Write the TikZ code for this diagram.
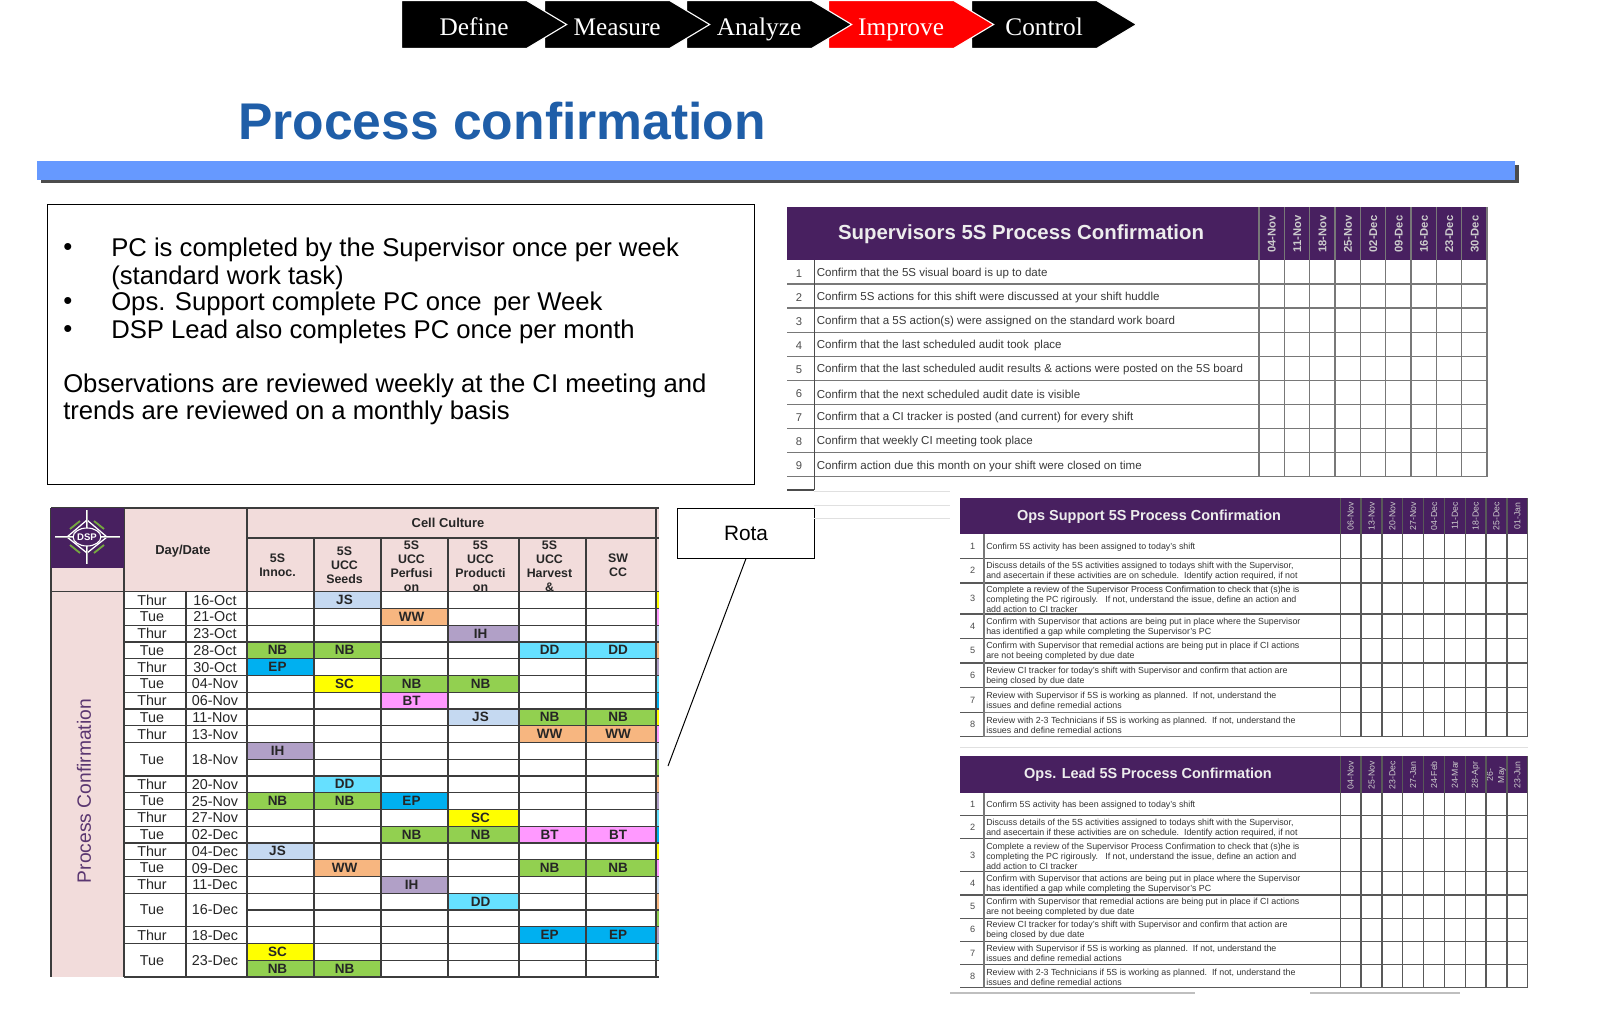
\documentclass[tikz,border=0pt]{standalone}
\usepackage{fontspec}
\setmainfont{Liberation Sans}
\newfontfamily\chevronfont{Liberation Serif}
\usepackage{xcolor}
\usetikzlibrary{shapes.geometric, shapes.symbols, positioning}
\definecolor{titlecolor}{RGB}{31, 94, 168}
\definecolor{barcolor}{RGB}{102, 153, 255}
\definecolor{purplecolor}{RGB}{72, 32, 96}
\definecolor{headcolor}{RGB}{242, 220, 219}
\definecolor{gridcolor}{RGB}{60, 60, 60}
\definecolor{sheetcolor}{RGB}{120, 120, 120}
\definecolor{nbcolor}{RGB}{146, 208, 80}
\definecolor{epcolor}{RGB}{0, 176, 240}
\definecolor{ddcolor}{RGB}{102, 224, 255}
\definecolor{sccolor}{RGB}{255, 255, 0}
\definecolor{btcolor}{RGB}{255, 153, 255}
\definecolor{jscolor}{RGB}{197, 217, 241}
\definecolor{wwcolor}{RGB}{247, 182, 128}
\definecolor{ihcolor}{RGB}{177, 160, 199}

\begin{document}
\begin{tikzpicture}[
    x=0.025cm, y=-0.025cm,
    chevron/.style={signal, signal to=east, signal pointer angle=62, fill=black, draw=white, line width=0.8pt, text=white, minimum width=4.125cm, minimum height=1.2cm, inner sep=0pt, anchor=west, text height=18pt, text depth=3pt, execute at begin node={\hspace*{0.5cm}}, font=\chevronfont\fontsize{18}{20}\selectfont},
    boxline/.style={anchor=west, inner sep=0pt, font=\fontsize{18.25}{21}\selectfont},
    rowtext/.style={inner sep=0pt, text=black!85, font=\fontsize{10.2}{12}\selectfont},
    headtext/.style={inner sep=0pt, align=center, text=black!85, font=\bfseries\fontsize{8.8}{10}\selectfont},
    cellA/.style={inner sep=0pt, minimum height=0.42cm, minimum width=1.675cm, text=black!85, execute at end node={\hspace*{0.15cm}}, font=\bfseries\fontsize{9.6}{11}\selectfont},
    cellB/.style={cellA, minimum width=1.775cm},
    cellC/.style={cellA, minimum width=1.75cm},
    gridline/.style={gridcolor, line width=0.8pt},
    sheetline/.style={sheetcolor, line width=0.9pt},
    faintline/.style={black!12, line width=0.6pt},
    banner/.style={fill=purplecolor, draw=none},
    sheettitle/.style={inner sep=0pt, text=white!93!black, font=\bfseries\fontsize{10.3}{12}\selectfont},
    datelabel/.style={rotate=90, inner sep=0pt, text=white!80!black, font=\fontsize{6.2}{7}\selectfont},
    supdate/.style={rotate=90, inner sep=0pt, text=white!80!black, font=\bfseries\fontsize{8}{9}\selectfont},
    suptext/.style={anchor=west, inner sep=0pt, text=black!78, font=\fontsize{8.2}{10}\selectfont},
    opstext/.style={anchor=west, inner sep=0pt, align=left, text=black!80, font=\fontsize{6.28}{7.1}\selectfont},
    numtext/.style={inner sep=0pt, text=black!70, font=\fontsize{6.5}{8}\selectfont}
]
    \useasboundingbox (0, 0) rectangle (1600, 1034);

    % Phases, last one first so that each tip lies over the next
    \node[chevron] (control) at (971, 24.5) {Control};
    \node[chevron, fill=red] (improve) at (828, 24.5) {Improve};
    \node[chevron] (analyze) at (686, 24.5) {Analyze};
    \node[chevron] (measure) at (544, 24.5) {Measure};
    \node[chevron] (define) at (401, 24.5) {Define};

    % Title and bar
    \node[inner sep=0pt, text=titlecolor, font=\bfseries\fontsize{36.7}{40}\selectfont] (title) at (502, 121) {Process confirmation};
    \fill[black!70] (41, 165) rectangle (1519, 183);
    \fill[barcolor] (37, 161) rectangle (1515, 180);

    % Text box
    \draw[black, line width=0.7pt] (47, 204) rectangle (754, 484);
    \node[boxline] (bullet1) at (63, 250) {•};
    \node[boxline] (line1) at (111, 250) {PC is completed by the Supervisor once per week};
    \node[boxline] (line2) at (111, 277.5) {(standard work task)};
    \node[boxline] (bullet2) at (63, 304) {•};
    \node[boxline] (line3) at (111, 304) {Ops. Support complete PC once\, per Week};
    \node[boxline] (bullet3) at (63, 332) {•};
    \node[boxline] (line4) at (111, 332) {DSP Lead also completes PC once per month};
    \node[boxline] (line5) at (63, 386) {Observations are reviewed weekly at the CI meeting and};
    \node[boxline] (line6) at (63, 413) {trends are reviewed on a monthly basis};

    % Rota header
    \fill[headcolor] (51, 508) rectangle (659, 592);
    \fill[headcolor] (51, 568) rectangle (124, 977);
    \node[headtext, font=\bfseries\fontsize{9.2}{11}\selectfont] (cellculture) at (448, 523) {Cell Culture};
    \node[headtext, font=\bfseries\fontsize{9.2}{11}\selectfont] (daydate) at (183, 551) {Day/Date};
    \node[headtext] (innoc) at (277.5, 565) {5S\\Innoc.};
    \node[headtext] (seeds) at (344.5, 565) {5S\\UCC\\Seeds};
    \node[headtext] (perfusion) at (411.5, 566) {5S\\UCC\\Perfusi\\on};
    \node[headtext] (production) at (480.5, 566) {5S\\UCC\\Producti\\on};
    \node[headtext] (harvest) at (549.5, 566) {5S\\UCC\\Harvest\\\&};
    \node[headtext] (swcc) at (618, 565) {SW\\CC};
    \node[rotate=90, inner sep=0pt, text=purplecolor!90!white, font=\fontsize{13.7}{15}\selectfont] (rotaside) at (84, 791) {Process Confirmation};

    % Rota body
    \fill[white] (124, 592) rectangle (656, 977);
    \foreach \rowy/\rowcolor in {600.1/sccolor, 616.8/btcolor, 633.6/jscolor, 650.3/wwcolor, 667.1/ihcolor, 683.8/ddcolor, 700.6/epcolor, 717.3/sccolor, 734.1/btcolor, 750.8/jscolor, 767.6/nbcolor, 784.3/wwcolor, 801.1/ihcolor, 817.8/ddcolor, 834.6/epcolor, 851.3/sccolor, 868.1/btcolor, 884.8/jscolor, 901.6/wwcolor, 918.3/nbcolor, 935.1/ihcolor, 951.8/ddcolor}
        \fill[\rowcolor] (656, \rowy-8.4) rectangle (659, \rowy+8.4);

    % Rota dates
    \foreach \rowday/\rowdate/\rowy [count=\i] in {Thur/16-Oct/600.1, Tue/21-Oct/616.8, Thur/23-Oct/633.6, Tue/28-Oct/650.3, Thur/30-Oct/667.1, Tue/04-Nov/683.8, Thur/06-Nov/700.6, Tue/11-Nov/717.3, Thur/13-Nov/734.1, Tue/18-Nov/759.2, Thur/20-Nov/784.3, Tue/25-Nov/801.1, Thur/27-Nov/817.8, Tue/02-Dec/834.6, Thur/04-Dec/851.3, Tue/09-Dec/868.1, Thur/11-Dec/884.8, Tue/16-Dec/910, Thur/18-Dec/935.1, Tue/23-Dec/960.2}{
        \node[rowtext] (day\i) at (152, \rowy) {\rowday};
        \node[rowtext] (date\i) at (215, \rowy) {\rowdate};
    }

    % Rota assignments
    \node[cellA, fill=jscolor] (js1) at (347.5, 600.1) {JS};
    \node[cellA, fill=wwcolor] (ww1) at (414.5, 616.8) {WW};
    \node[cellB, fill=ihcolor] (ih1) at (483.5, 633.6) {IH};
    \node[cellA, fill=nbcolor] (nb1) at (280.5, 650.3) {NB};
    \node[cellA, fill=nbcolor] (nb2) at (347.5, 650.3) {NB};
    \node[cellA, fill=ddcolor] (dd1) at (552.5, 650.3) {DD};
    \node[cellC, fill=ddcolor] (dd2) at (621, 650.3) {DD};
    \node[cellA, fill=epcolor] (ep1) at (280.5, 667.1) {EP};
    \node[cellA, fill=sccolor] (sc1) at (347.5, 683.8) {SC};
    \node[cellA, fill=nbcolor] (nb3) at (414.5, 683.8) {NB};
    \node[cellB, fill=nbcolor] (nb4) at (483.5, 683.8) {NB};
    \node[cellA, fill=btcolor] (bt1) at (414.5, 700.6) {BT};
    \node[cellB, fill=jscolor] (js2) at (483.5, 717.3) {JS};
    \node[cellA, fill=nbcolor] (nb5) at (552.5, 717.3) {NB};
    \node[cellC, fill=nbcolor] (nb6) at (621, 717.3) {NB};
    \node[cellA, fill=wwcolor] (ww2) at (552.5, 734.1) {WW};
    \node[cellC, fill=wwcolor] (ww3) at (621, 734.1) {WW};
    \node[cellA, fill=ihcolor] (ih2) at (280.5, 750.8) {IH};
    \node[cellA, fill=ddcolor] (dd3) at (347.5, 784.3) {DD};
    \node[cellA, fill=nbcolor] (nb7) at (280.5, 801.1) {NB};
    \node[cellA, fill=nbcolor] (nb8) at (347.5, 801.1) {NB};
    \node[cellA, fill=epcolor] (ep2) at (414.5, 801.1) {EP};
    \node[cellB, fill=sccolor] (sc2) at (483.5, 817.8) {SC};
    \node[cellA, fill=nbcolor] (nb9) at (414.5, 834.6) {NB};
    \node[cellB, fill=nbcolor] (nb10) at (483.5, 834.6) {NB};
    \node[cellA, fill=btcolor] (bt2) at (552.5, 834.6) {BT};
    \node[cellC, fill=btcolor] (bt3) at (621, 834.6) {BT};
    \node[cellA, fill=jscolor] (js3) at (280.5, 851.3) {JS};
    \node[cellA, fill=wwcolor] (ww4) at (347.5, 868.1) {WW};
    \node[cellA, fill=nbcolor] (nb11) at (552.5, 868.1) {NB};
    \node[cellC, fill=nbcolor] (nb12) at (621, 868.1) {NB};
    \node[cellA, fill=ihcolor] (ih3) at (414.5, 884.8) {IH};
    \node[cellB, fill=ddcolor] (dd4) at (483.5, 901.6) {DD};
    \node[cellA, fill=epcolor] (ep3) at (552.5, 935.1) {EP};
    \node[cellC, fill=epcolor] (ep4) at (621, 935.1) {EP};
    \node[cellA, fill=sccolor] (sc3) at (280.5, 951.8) {SC};
    \node[cellA, fill=nbcolor] (nb13) at (280.5, 968.6) {NB};
    \node[cellA, fill=nbcolor] (nb14) at (347.5, 968.6) {NB};

    % Rota grid
    \foreach \gridy in {608.5, 625.2, 642, 658.7, 675.5, 692.2, 709, 725.7, 742.5, 776, 792.7, 809.5, 826.2, 843, 859.7, 876.5, 893.2, 926.7, 943.5, 977}
        \draw[gridline] (124, \gridy) -- (659, \gridy);
    \draw[gridline] (51, 591.7) -- (659, 591.7);
    \foreach \gridy in {759.2, 910, 960.2}
        \draw[gridline] (247, \gridy) -- (659, \gridy);
    \foreach \gridx in {124, 247}
        \draw[gridline] (\gridx, 508) -- (\gridx, 977);
    \draw[gridline] (186, 591.7) -- (186, 977);
    \foreach \gridx in {314, 381, 448, 519, 586}
        \draw[gridline] (\gridx, 538) -- (\gridx, 977);
    \draw[gridline] (656, 508) -- (656, 977);
    \draw[gridline] (51, 508) -- (659, 508);
    \draw[gridline] (247, 538) -- (659, 538);
    \draw[gridline] (51, 508) -- (51, 977);

    % Logo
    \fill[purplecolor] (51, 508) rectangle (124, 568);
    \draw[white, line width=0.9pt] (87, 520) -- (107, 537) -- (87, 553) -- (67, 537) -- cycle;
    \draw[nbcolor!80!black, line width=1.3pt] (70, 529) -- (80, 521) (104, 529) -- (94, 521) (70, 545) -- (80, 553) (104, 545) -- (94, 553);
    \draw[white, line width=0.6pt, double=black!30, double distance=0.7pt] (55, 537) -- (120, 537) (87, 510) -- (87, 564);
    \node[ellipse, fill=purplecolor, draw=white, line width=0.8pt, inner sep=0pt, minimum width=0.65cm, minimum height=0.45cm, text=white, font=\bfseries\fontsize{6.8}{8}\selectfont] (dsp) at (87, 537) {DSP};

    % Rota callout
    \node[draw=black, line width=0.7pt, minimum width=3.4cm, minimum height=1.25cm, inner sep=0pt, font=\fontsize{14.8}{16}\selectfont] (rota) at (746, 533) {Rota};
    \coordinate (rotaend) at (668, 766);
    \draw[black, line width=0.7pt] (rota.south) -- (rotaend);

    % Supervisors sheet
    \fill[banner] (787, 207) rectangle (1487, 260);
    \node[sheettitle, font=\bfseries\fontsize{14.5}{16}\selectfont] (suptitle) at (1021, 234) {Supervisors 5S Process Confirmation};
    \foreach \supdate/\supx [count=\i] in {04-Nov/1271.7, 11-Nov/1297.3, 18-Nov/1322.6, 25-Nov/1348, 02-Dec/1373.3, 09-Dec/1398.7, 16-Dec/1424, 23-Dec/1449.3, 30-Dec/1474.7}
        \node[supdate] (supd\i) at (\supx, 234) {\supdate};
    \foreach \gridx in {1259, 1284.3, 1309.7, 1335, 1360.3, 1385.7, 1411, 1436.3, 1461.7, 1487}
        \draw[sheetline] (\gridx, 207) -- (\gridx, 476.6);
    \foreach \gridy in {284, 308.1, 332.2, 356.3, 380.4, 404.4, 428.5, 452.6, 476.6}
        \draw[sheetline] (787, \gridy) -- (1487, \gridy);
    \draw[black!70, line width=0.7pt] (814, 260) -- (814, 490);
    \draw[black!70, line width=1pt] (787, 490) -- (814, 490);
    \foreach \numy/\numtxt [count=\i] in {273.5/1, 297.6/2, 321.7/3, 345.7/4, 369.8/5, 393.9/6, 417.9/7, 442/8, 466.1/9}
        \node[numtext, font=\fontsize{8}{9}\selectfont] (supn\i) at (799, \numy) {\numtxt};
    \node[suptext] (sup1) at (816.5, 273.5) {Confirm that the 5S visual board is up to date};
    \node[suptext] (sup2) at (816.5, 297.6) {Confirm 5S actions for this shift were discussed at your shift huddle};
    \node[suptext] (sup3) at (816.5, 321.7) {Confirm that a 5S action(s) were assigned on the standard work board};
    \node[suptext] (sup4) at (816.5, 345.7) {Confirm that the last scheduled audit took\, place};
    \node[suptext] (sup5) at (816.5, 369.8) {Confirm that the last scheduled audit results \& actions were posted on the 5S board};
    \node[suptext] (sup6) at (816.5, 393.9) {Confirm that the next scheduled audit date is visible};
    \node[suptext] (sup7) at (816.5, 417.9) {Confirm that a CI tracker is posted (and current) for every shift};
    \node[suptext] (sup8) at (816.5, 442) {Confirm that weekly CI meeting took place};
    \node[suptext] (sup9) at (816.5, 466.1) {Confirm action due this month on your shift were closed on time};
    \foreach \fainty in {491, 505, 518}
        \draw[faintline] (814, \fainty) -- (950, \fainty);

    % Ops Support sheet
    \fill[banner] (960, 498) rectangle (1528, 534);
    \node[sheettitle] (opstitle) at (1149, 516.5) {Ops Support 5S Process Confirmation};
    \foreach \opsdate/\opsx [count=\i] in {06-Nov/1350.7, 13-Nov/1371.5, 20-Nov/1392.3, 27-Nov/1413.1, 04-Dec/1434, 11-Dec/1454.8, 18-Dec/1475.6, 25-Dec/1496.4, 01-Jan/1517.3}
        \node[datelabel] (opsd\i) at (\opsx, 516) {\opsdate};
    \foreach \gridx in {1340.3, 1361.1, 1382, 1402.8, 1423.6, 1444.5, 1465.3, 1486.1, 1507, 1527.8}
        \draw[sheetline, black!65] (\gridx, 498) -- (\gridx, 737);
    \foreach \gridy in {558.3, 583, 614, 638.7, 663, 687.7, 712.3, 736.7}
        \draw[sheetline, black!65] (960, \gridy) -- (1528, \gridy);
    \draw[sheetline] (984, 534) -- (984, 737);
    \foreach \numy/\numtxt [count=\i] in {546.2/1, 570.7/2, 598.5/3, 626.3/4, 650.8/5, 675.3/6, 700/7, 724.5/8}
        \node[numtext] (opsn\i) at (972.6, \numy) {\numtxt};
    \node[opstext] (ops1) at (986, 547) {Confirm 5S activity has been assigned to today's shift};
    \node[opstext] (ops2) at (986, 571.5) {Discuss details of the 5S activities assigned to todays shift with the Supervisor,\\and asecertain if these activities are on schedule.\ \ Identify action required, if not};
    \node[opstext] (ops3) at (986, 599.3) {Complete a review of the Supervisor Process Confirmation to check that (s)he is\\completing the PC rigirously.\ \ \ If not, understand the issue, define an action and\\add action to CI tracker};
    \node[opstext] (ops4) at (986, 627.1) {Confirm with Supervisor that actions are being put in place where the Supervisor\\has identified a gap while completing the Supervisor's PC};
    \node[opstext] (ops5) at (986, 651.6) {Confirm with Supervisor that remedial actions are being put in place if CI actions\\are not beeing completed by due date};
    \node[opstext] (ops6) at (986, 676.1) {Review CI tracker for today's shift with Supervisor and confirm that action are\\being closed by due date};
    \node[opstext] (ops7) at (986, 700.8) {Review with Supervisor if 5S is working as planned.\ \ If not, understand the\\issues and define remedial actions};
    \node[opstext] (ops8) at (986, 725.3) {Review with 2-3 Technicians if 5S is working as planned.\ \ If not, understand the\\issues and define remedial actions};
    \draw[black!50, line width=1.1pt] (984, 712.3) rectangle (1340.3, 736.7);
    \draw[faintline] (960, 747) -- (1528, 747);

    % Ops. Lead sheet
    \fill[banner] (960, 756) rectangle (1528, 793.3);
    \node[sheettitle] (leadtitle) at (1148, 775) {Ops. Lead 5S Process Confirmation};
    \foreach \leaddate/\leadx [count=\i] in {04-Nov/1350.7, 25-Nov/1371.5, 23-Dec/1392.3, 27-Jan/1413.1, 24-Feb/1434, 24-Mar/1454.8, 28-Apr/1475.6, 23-Jun/1517.3}
        \node[datelabel] (leadd\i) at (\leadx, 775) {\leaddate};
    \node[datelabel, align=center, font=\fontsize{6.2}{8}\selectfont] (leadmay) at (1496.4, 775) {26-\\May};
    \foreach \gridx in {1340.3, 1361.1, 1382, 1402.8, 1423.6, 1444.5, 1465.3, 1486.1, 1507, 1527.8}
        \draw[sheetline, black!65] (\gridx, 756) -- (\gridx, 988);
    \foreach \gridy in {815.7, 838.7, 871.7, 895, 918.3, 941.3, 964.7, 987.7}
        \draw[sheetline, black!65] (960, \gridy) -- (1528, \gridy);
    \draw[sheetline] (984, 793.3) -- (984, 988);
    \foreach \numy/\numtxt [count=\i] in {804.5/1, 827.2/2, 855.2/3, 883.3/4, 906.7/5, 929.8/6, 953/7, 976.2/8}
        \node[numtext] (leadn\i) at (972.6, \numy) {\numtxt};
    \node[opstext] (lead1) at (986, 805.3) {Confirm 5S activity has been assigned to today's shift};
    \node[opstext] (lead2) at (986, 828) {Discuss details of the 5S activities assigned to todays shift with the Supervisor,\\and asecertain if these activities are on schedule.\ \ Identify action required, if not};
    \node[opstext] (lead3) at (986, 856) {Complete a review of the Supervisor Process Confirmation to check that (s)he is\\completing the PC rigirously.\ \ \ If not, understand the issue, define an action and\\add action to CI tracker};
    \node[opstext] (lead4) at (986, 884.1) {Confirm with Supervisor that actions are being put in place where the Supervisor\\has identified a gap while completing the Supervisor's PC};
    \node[opstext] (lead5) at (986, 907.5) {Confirm with Supervisor that remedial actions are being put in place if CI actions\\are not beeing completed by due date};
    \node[opstext] (lead6) at (986, 930.6) {Review CI tracker for today's shift with Supervisor and confirm that action are\\being closed by due date};
    \node[opstext] (lead7) at (986, 953.8) {Review with Supervisor if 5S is working as planned.\ \ If not, understand the\\issues and define remedial actions};
    \node[opstext] (lead8) at (986, 977) {Review with 2-3 Technicians if 5S is working as planned.\ \ If not, understand the\\issues and define remedial actions};
    \draw[black!25, line width=0.9pt] (950, 993) -- (1195, 993) (1310, 993) -- (1460, 993);
\end{tikzpicture}
\end{document}
